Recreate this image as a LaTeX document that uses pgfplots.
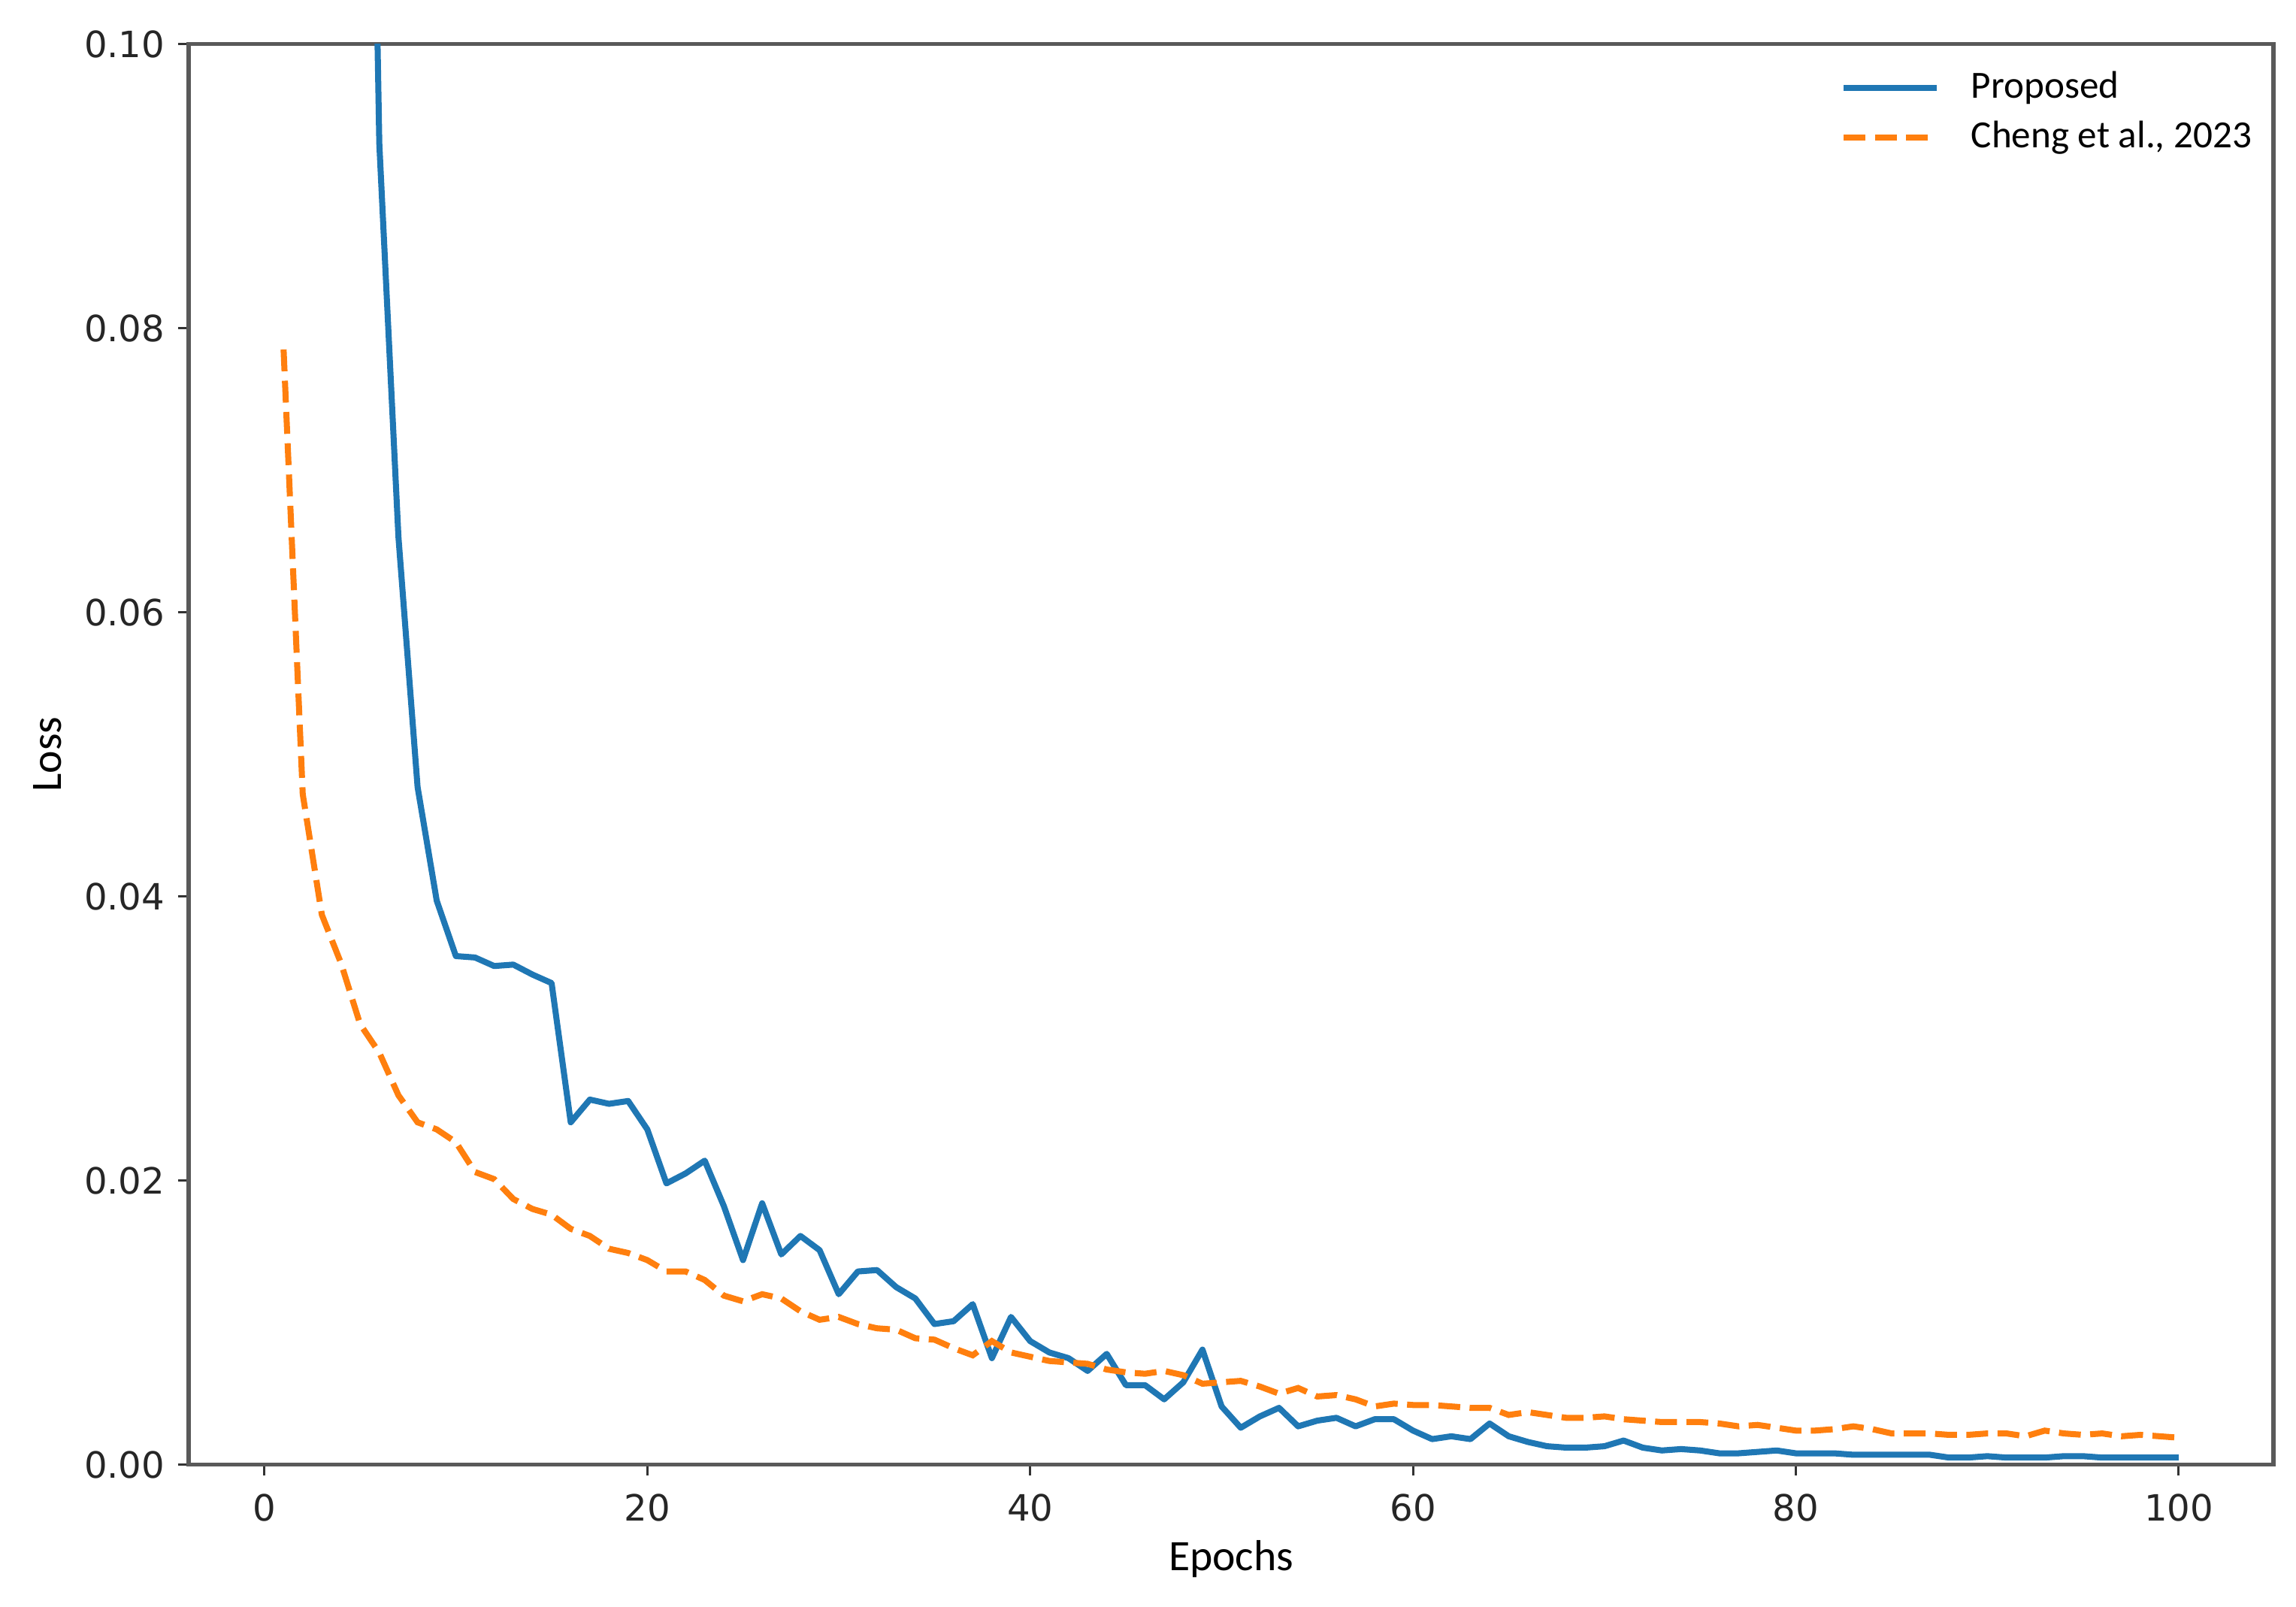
\documentclass[border=0pt]{standalone}
\usepackage{pgfplots}
\pgfplotsset{compat=1.18}
\usepackage{fontspec}
\setmainfont{Carlito}
\newfontfamily\dejavu{DejaVu Sans}
\definecolor{mplblue}{HTML}{1F77B4}
\definecolor{mplorange}{HTML}{FF7F0E}
\begin{document}
\begin{tikzpicture}
\begin{axis}[
  name=ax,
  scale only axis,
  width=19.43cm, height=13.24cm,
  xmin=-3.95, xmax=104.95,
  ymin=0, ymax=0.1,
  xtick={0,20,40,60,80,100},
  ytick={0,0.02,0.04,0.06,0.08,0.1},
  yticklabel style={/pgf/number format/.cd, fixed, fixed zerofill, precision=2},
  /pgf/number format/assume math mode=true,
  tick label style={font=\dejavu\fontsize{9.6}{11}\selectfont, text=black!85},
  xtick pos=bottom, ytick pos=left,
  tick align=outside,
  major tick length=0.1cm,
  every tick/.style={black!80, line width=0.6pt},
  axis line style={black!65, line width=1.1pt},
  xticklabel style={yshift=-0.05cm},
  xlabel={Epochs}, ylabel={Loss},
  label style={font=\fontsize{11.5}{13}\selectfont},
  xlabel style={at={([yshift=-0.88cm]rel axis cs:0.5,0)}, anchor=center},
  ylabel style={at={([xshift=-1.32cm]rel axis cs:0,0.5)}, anchor=center, rotate=0},
  legend style={draw=none, fill=none, at={(rel axis cs:1,1)}, anchor=north east,
    xshift=-0.02cm, yshift=-0.11cm,
    font=\fontsize{10.2}{12}\selectfont, row sep=0.02cm,
    /tikz/every odd column/.append style={column sep=0.22cm},
    cells={anchor=west}},
  legend image code/.code={\draw[#1] (0cm,0cm) -- (0.87cm,0cm);},
  legend cell align=left,
]
\addplot[mplblue, line width=1.6pt, line join=round] coordinates {
(5,0.170) (6,0.093) (7,0.0653) (8,0.0477) (9,0.0397) (10,0.0358)
(11,0.0357) (12,0.0351) (13,0.0352) (14,0.0345) (15,0.0339)
(16,0.0241) (17,0.0257) (18,0.0254) (19,0.0256) (20,0.0236)
(21,0.0198) (22,0.0205) (23,0.0214) (24,0.0182) (25,0.0144)
(26,0.0184) (27,0.0148) (28,0.0161) (29,0.0151) (30,0.0120)
(31,0.0136) (32,0.0137) (33,0.0125) (34,0.0117) (35,0.0099)
(36,0.0101) (37,0.0113) (38,0.0075) (39,0.0104) (40,0.0087)
(41,0.0079) (42,0.0075) (43,0.0066) (44,0.0078) (45,0.0056)
(46,0.0056) (47,0.0046) (48,0.0058) (49,0.0081) (50,0.0041)
(51,0.0026) (52,0.0034) (53,0.0040) (54,0.0027) (55,0.0031)
(56,0.0033) (57,0.0027) (58,0.0032) (59,0.0032) (60,0.0024)
(61,0.0018) (62,0.0020) (63,0.0018) (64,0.0029) (65,0.0020)
(66,0.0016) (67,0.0013) (68,0.0012) (69,0.0012) (70,0.0013)
(71,0.0017) (72,0.0012) (73,0.0010) (74,0.0011) (75,0.0010)
(76,0.0008) (77,0.0008) (78,0.0009) (79,0.0010) (80,0.0008)
(81,0.0008) (82,0.0008) (83,0.0007) (84,0.0007) (85,0.0007)
(86,0.0007) (87,0.0007) (88,0.0005) (89,0.0005) (90,0.0006)
(91,0.0005) (92,0.0005) (93,0.0005) (94,0.0006) (95,0.0006)
(96,0.0005) (97,0.0005) (98,0.0005) (99,0.0005) (100,0.0005)
};
\addlegendentry{Proposed}
\addplot[mplorange, line width=1.6pt, dash pattern=on 5.8pt off 2.5pt] coordinates {
(1,0.0785) (2,0.0472) (3,0.0387) (4,0.0353) (5,0.0310)
(6,0.0290) (7,0.0260) (8,0.0241) (9,0.0236) (10,0.0227)
(11,0.0206) (12,0.0201) (13,0.0187) (14,0.0180) (15,0.0176)
(16,0.0166) (17,0.0161) (18,0.0152) (19,0.0149) (20,0.0144)
(21,0.0136) (22,0.0136) (23,0.0130) (24,0.0119) (25,0.0115)
(26,0.0120) (27,0.0117) (28,0.0108) (29,0.0102) (30,0.0104)
(31,0.0099) (32,0.0096) (33,0.0095) (34,0.0089) (35,0.0088)
(36,0.0082) (37,0.0077) (38,0.0087) (39,0.0079) (40,0.0076)
(41,0.0073) (42,0.0072) (43,0.0071) (44,0.0067) (45,0.0065)
(46,0.0064) (47,0.0066) (48,0.0063) (49,0.0057) (50,0.0058)
(51,0.0059) (52,0.0055) (53,0.0050) (54,0.0054) (55,0.0048)
(56,0.0049) (57,0.0046) (58,0.0041) (59,0.0043) (60,0.0042)
(61,0.0042) (62,0.0041) (63,0.0040) (64,0.0040) (65,0.0035)
(66,0.0037) (67,0.0035) (68,0.0033) (69,0.0033) (70,0.0034)
(71,0.0032) (72,0.0031) (73,0.0030) (74,0.0030) (75,0.0030)
(76,0.0029) (77,0.0027) (78,0.0028) (79,0.0026) (80,0.0024)
(81,0.0024) (82,0.0025) (83,0.0027) (84,0.0025) (85,0.0022)
(86,0.0022) (87,0.0022) (88,0.0021) (89,0.0021) (90,0.0022)
(91,0.0022) (92,0.0020) (93,0.0024) (94,0.0022) (95,0.0021)
(96,0.0022) (97,0.0020) (98,0.0021) (99,0.0020) (100,0.0019)
};
\addlegendentry{Cheng et al., 2023}
\end{axis}
\pgfresetboundingbox
\path[use as bounding box] ([shift={(-1.76cm,-1.32cm)}]ax.south west) rectangle ([shift={(0.21cm,0.41cm)}]ax.north east);
\end{tikzpicture}
\end{document}
